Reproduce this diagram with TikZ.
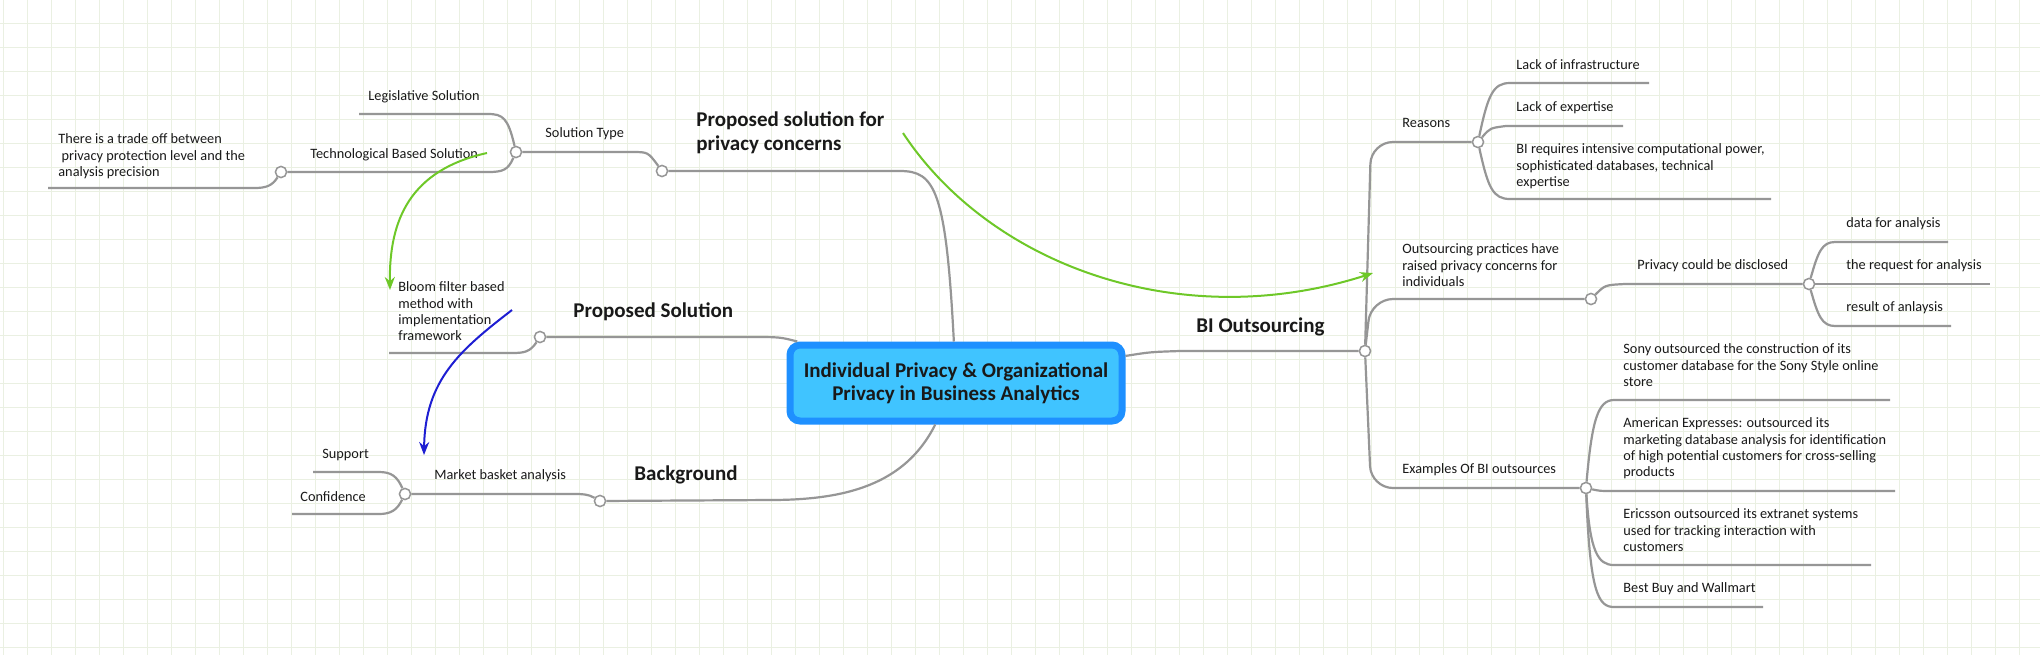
\documentclass[tikz,border=0pt]{standalone}
\usepackage{fontspec}
\setmainfont{Carlito}
\usetikzlibrary{arrows.meta}
\definecolor{linegray}{RGB}{150,150,150}
\definecolor{gridc}{RGB}{234,240,226}
\definecolor{boxborder}{RGB}{30,144,255}
\definecolor{boxfill}{RGB}{64,196,255}
\definecolor{arrgreen}{RGB}{110,200,40}
\definecolor{arrblue}{RGB}{30,30,210}
\definecolor{txt}{RGB}{25,25,25}
\tikzset{
  branch/.style={draw=linegray, line width=1.1pt},
  jct/.style={circle, draw=linegray, fill=white, line width=0.75pt, minimum size=5.6pt, inner sep=0pt},
  small/.style={font=\fontsize{7.15}{8.1}\selectfont, text=txt, inner sep=0pt, anchor=base west},
  multi/.style={small, align=left, anchor=north west},
  title/.style={font=\bfseries\fontsize{10.5}{12}\selectfont, text=txt, inner sep=0pt, anchor=base west},
  central/.style={draw=boxborder, fill=boxfill, line width=3.5pt, rounded corners=5pt,
    minimum width=166pt, minimum height=38pt, align=center, text=txt,
    font=\bfseries\fontsize{10.5}{11.5}\selectfont},
  arrowline/.style={line width=1pt, -{Stealth[length=6.5pt,width=5pt]}},
}
\begin{document}
\begin{tikzpicture}[x=0.5pt, y=-0.5pt]
\useasboundingbox (0,0) rectangle (2040,655);
\fill[white] (0,0) rectangle (2040,655);
% grid
\foreach \i in {0,...,84} {\draw[gridc, line width=0.5pt] ({3.5+24*\i},0) -- ({3.5+24*\i},655);}
\foreach \j in {0,...,27} {\draw[gridc, line width=0.5pt] (0,{-0.7+24*\j}) -- (2040,{-0.7+24*\j});}

% central topic
\node[central] (root) at (956,383) {Individual Privacy \& Organizational\\Privacy in Business Analytics};

% junctions
\node[jct] (A) at (662,171) {};
\node[jct] (B) at (516,152) {};
\node[jct] (C) at (281,172) {};
\node[jct] (D) at (540,337) {};
\node[jct] (E) at (600,501) {};
\node[jct] (F) at (405,494) {};
\node[jct] (G) at (1365,351) {};
\node[jct] (H) at (1478,142) {};
\node[jct] (I) at (1591,299) {};
\node[jct] (K) at (1809,284) {};
\node[jct] (J) at (1586,488) {};

% free line ends
\coordinate (leg) at (359,114);
\coordinate (toff) at (48,188);
\coordinate (bloom) at (389,353);
\coordinate (sup) at (313,472);
\coordinate (conf) at (292,514);
\coordinate (infra) at (1649,83);
\coordinate (exp) at (1623,126);
\coordinate (bireq) at (1771,199);
\coordinate (data) at (1948,242);
\coordinate (req) at (1990,284);
\coordinate (res) at (1951,326);
\coordinate (sony) at (1890,400);
\coordinate (amex) at (1895,491);
\coordinate (eric) at (1871,565);
\coordinate (best) at (1763,607);

% main branches
\draw[branch] (root) .. controls (946,190) and (935,171) .. (900,171) -- (A);
\draw[branch] (root) .. controls (780,337) .. (750,337) -- (D);
\draw[branch] (root) .. controls (905,485) and (845,500) .. (770,500) -- (E);
\draw[branch] (root) .. controls (1150,352) .. (1180,351) -- (G);

% left sub branches
\draw[branch] (A) .. controls (648,152) .. (632,152) -- (B);
\draw[branch] (B) .. controls (508,118) and (503,114) .. (488,114) -- (leg);
\draw[branch] (B) .. controls (508,170) and (503,172) .. (488,172) -- (C);
\draw[branch] (C) .. controls (272,186) and (266,188) .. (254,188) -- (toff);
\draw[branch] (D) .. controls (530,352) and (524,353) .. (512,353) -- (bloom);
\draw[branch] (E) .. controls (588,494) and (582,494) .. (574,494) -- (F);
\draw[branch] (F) .. controls (397,476) and (391,472) .. (379,472) -- (sup);
\draw[branch] (F) .. controls (397,510) and (391,514) .. (379,514) -- (conf);

% right sub branches
\draw[branch, rounded corners=11pt] (G) -- (1371,142) -- (H);
\draw[branch, rounded corners=11pt] (G) -- (1371,299) -- (I);
\draw[branch, rounded corners=11pt] (G) -- (1371,488) -- (J);
\draw[branch] (H) .. controls (1488,95) and (1493,83) .. (1510,83) -- (infra);
\draw[branch] (H) .. controls (1490,128) .. (1506,126) -- (exp);
\draw[branch] (H) .. controls (1488,188) and (1493,199) .. (1510,199) -- (bireq);
\draw[branch] (I) .. controls (1605,285) .. (1625,284) -- (K);
\draw[branch] (K) .. controls (1818,252) and (1822,242) .. (1835,242) -- (data);
\draw[branch] (K) -- (req);
\draw[branch] (K) .. controls (1818,316) and (1822,326) .. (1835,326) -- (res);
\draw[branch] (J) .. controls (1592,420) and (1598,400) .. (1614,400) -- (sony);
\draw[branch] (J) .. controls (1600,491) .. (1612,491) -- (amex);
\draw[branch] (J) .. controls (1590,552) and (1598,565) .. (1614,565) -- (eric);
\draw[branch] (J) .. controls (1590,592) and (1598,607) .. (1614,607) -- (best);

% titles
\node[title, anchor=north west, align=left] (t1) at (696,111) {Proposed solution for\\privacy concerns};
\node[title] (t2) at (573,317.5) {Proposed Solution};
\node[title] (t3) at (634,480.5) {Background};
\node[title] (t4) at (1196,332.5) {BI Outsourcing};

% small texts left
\node[small] (legt) at (368,100.5) {Legislative Solution};
\node[small] (tech) at (310,158.5) {Technological Based Solution};
\node[small] (solt) at (545,137.5) {Solution Type};
\node[multi] (tofft) at (58,133.5) {There is a trade off between\\\hspace*{0.23em}privacy protection level and the\\analysis precision};
\node[multi] (bloomt) at (398,281.5) {Bloom filter based\\method with\\implementation\\framework};
\node[small] (mba) at (434,479.5) {Market basket analysis};
\node[small] (supt) at (322,458.5) {Support};
\node[small] (conft) at (300,501.5) {Confidence};

% small texts right
\node[small] (reas) at (1402,127.5) {Reasons};
\node[small] (infrat) at (1516,69.5) {Lack of infrastructure};
\node[small] (expt) at (1516,111.5) {Lack of expertise};
\node[multi] (bireqt) at (1516,143.5) {BI requires intensive computational power,\\sophisticated databases, technical\\expertise};
\node[multi] (outs) at (1402,243.5) {Outsourcing practices have\\raised privacy concerns for\\individuals};
\node[small] (priv) at (1637,269.5) {Privacy could be disclosed};
\node[small] (datat) at (1846,227.5) {data for analysis};
\node[small] (reqt) at (1846,269.5) {the request for analysis};
\node[small] (rest) at (1846,311.5) {result of anlaysis};
\node[small] (exam) at (1402,473.5) {Examples Of BI outsources};
\node[multi] (sonyt) at (1623,343.5) {Sony outsourced the construction of its\\customer database for the Sony Style online\\store};
\node[multi] (amext) at (1623,417.5) {American Expresses: outsourced its\\marketing database analysis for identification\\of high potential customers for cross-selling\\products};
\node[multi] (erict) at (1623,508.5) {Ericsson outsourced its extranet systems\\used for tracking interaction with\\customers};
\node[small] (bestt) at (1623,592.5) {Best Buy and Wallmart};

% relationship arrows
\coordinate (g1s) at (487,153);
\coordinate (g1e) at (390,290);
\coordinate (g2s) at (903,133);
\coordinate (g2e) at (1373,273);
\coordinate (b1s) at (512,310);
\coordinate (b1e) at (424,455);
\draw[arrowline, arrgreen] (g1s) .. controls (410,170) and (389,220) .. (g1e);
\draw[arrowline, arrgreen] (g2s) .. controls (990,265) and (1180,335) .. (g2e);
\draw[arrowline, arrblue] (b1s) .. controls (460,350) and (425,380) .. (b1e);
\end{tikzpicture}
\end{document}
